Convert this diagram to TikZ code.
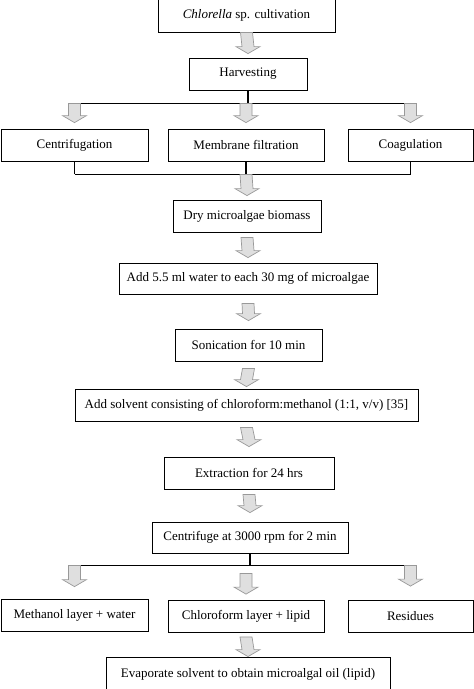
\documentclass[tikz,border=0pt]{standalone}
\usepackage{fontspec}
\setmainfont{Liberation Serif}
\usetikzlibrary{calc}
\newcommand\blkarrow[2]{%
  \path (#1) coordinate (bas) (#2) coordinate (bae);
  \draw[blkarr] ($(bas)+(-6,0)$) -- ($(bas)+(6,0)$) -- ($(bae)+(6,-7)$) -- ($(bae)+(12,-7)$) -- (bae) -- ($(bae)+(-12,-7)$) -- ($(bae)+(-6,-7)$) -- cycle;}
\begin{document}
\begin{tikzpicture}[x=1pt,y=-1pt,
  box/.style={draw=black,line width=0.8pt,minimum height=32pt,inner sep=0pt,font=\fontsize{13}{15}\selectfont,fill=white},
  blkarr/.style={draw=gray!80,fill=gray!25,line width=0.7pt,line join=miter},
  conn/.style={draw=black,line width=1.1pt}]
\useasboundingbox (0,0) rectangle (474,689);
\fill[white] (0,0) rectangle (474,689);
\node[box,minimum width=177pt,minimum height=34pt] (cult) at (246.5,15) {\textit{Chlorella} sp. cultivation};
\node[box,minimum width=118pt] (harv) at (248,74) {Harvesting};
\node[box,minimum width=147pt] (centr) at (74.5,145) {Centrifugation};
\node[box,minimum width=156pt] (memb) at (246,145) {Membrane filtration};
\node[box,minimum width=125pt] (coag) at (410.5,145) {Coagulation};
\node[box,minimum width=148pt] (dry) at (247,216) {Dry microalgae biomass};
\node[box,minimum width=258pt,minimum height=31pt] (water) at (248,278.5) {Add 5.5 ml water to each 30 mg of microalgae};
\node[box,minimum width=147pt] (sonic) at (248.5,345) {Sonication for 10 min};
\node[box,minimum width=343pt] (solv) at (246.5,405) {Add solvent consisting of chloroform:methanol (1:1, v/v) [35]};
\node[box,minimum width=170pt] (extr) at (249,473) {Extraction for 24 hrs};
\node[box,minimum width=196pt,minimum height=31pt] (cfug) at (250,537.5) {Centrifuge at 3000 rpm for 2 min};
\node[box,minimum width=147pt] (meth) at (74.5,615) {Methanol layer + water};
\node[box,minimum width=156pt] (chlo) at (246,616.5) {Chloroform layer + lipid};
\node[box,minimum width=125pt] (resi) at (410.5,616.5) {Residues};
\node[box,minimum width=284pt,minimum height=34pt] (evap) at (248,674) {Evaporate solvent to obtain microalgal oil (lipid)};
% arrows and connectors
\blkarrow{cult.south}{$(harv.north)+(0,-4)$}
\coordinate (j1) at ($(harv.south)+(0,13)$);
\draw[conn] (harv.south) -- (j1);
\draw[conn] (centr.north |- j1) -- (coag.north |- j1);
\blkarrow{centr.north |- j1}{$(centr.north)+(0,-6)$}
\blkarrow{memb.north |- j1}{$(memb.north)+(0,-6)$}
\blkarrow{coag.north |- j1}{$(coag.north)+(0,-6)$}
\coordinate (j2) at ($(memb.south)+(0,13)$);
\draw[conn] (centr.south) -- (centr.south |- j2);
\draw[conn] (memb.south) -- (j2);
\draw[conn] (coag.south) -- (coag.south |- j2);
\draw[conn] (centr.south |- j2) -- (coag.south |- j2);
\blkarrow{j2}{$(dry.north)+(0,-4)$}
\blkarrow{$(dry.south)+(0,5)$}{$(water.north)+(0,-5)$}
\blkarrow{$(water.south)+(0,9)$}{$(sonic.north)+(0,-8)$}
\blkarrow{$(sonic.south)+(0,7)$}{$(solv.north)+(0,-2)$}
\blkarrow{$(solv.south)+(0,6)$}{$(extr.north)+(0,-10)$}
\blkarrow{$(extr.south)+(0,5)$}{$(cfug.north)+(0,-9)$}
\coordinate (j3) at ($(cfug.south)+(0,12)$);
\draw[conn] (cfug.south) -- (j3);
\draw[conn] (meth.north |- j3) -- (resi.north |- j3);
\blkarrow{meth.north |- j3}{$(meth.north)+(0,-12)$}
\blkarrow{$(chlo.north |- j3)+(0,8)$}{$(chlo.north)+(0,-6)$}
\blkarrow{resi.north |- j3}{$(resi.north)+(0,-14)$}
\blkarrow{$(chlo.south)+(0,4)$}{evap.north}
\end{tikzpicture}
\end{document}
